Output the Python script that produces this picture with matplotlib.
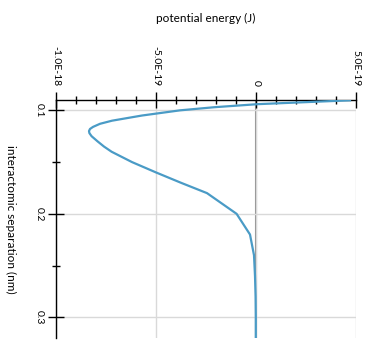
import matplotlib
matplotlib.use("Agg")
import matplotlib.pyplot as plt
from matplotlib.ticker import MultipleLocator

# ---------- data ----------
separation_nm = [0.0903, 0.094, 0.097, 0.100, 0.105, 0.110, 0.113, 0.116,
                 0.118, 0.120, 0.122, 0.125, 0.130, 0.135, 0.140, 0.150,
                 0.160, 0.170, 0.180, 0.200, 0.220, 0.240, 0.260, 0.280,
                 0.300, 0.320]
energy_J = [4.7e-19, 0.1e-19, -2.1e-19, -3.8e-19, -5.7e-19, -7.2e-19,
            -7.8e-19, -8.15e-19, -8.3e-19, -8.35e-19, -8.33e-19, -8.22e-19,
            -7.92e-19, -7.6e-19, -7.22e-19, -6.2e-19, -5.0e-19, -3.75e-19,
            -2.45e-19, -0.97e-19, -0.30e-19, -0.10e-19, -0.05e-19,
            -0.02e-19, -0.01e-19, -0.01e-19]

energy_ticks = [-1.0e-18, -5.0e-19, 0.0, 5.0e-19]
energy_labels = ["-1.0E-18", "-5.0E-19", "0", "5.0E-19"]
sep_ticks = [0.1, 0.2, 0.3]
sep_labels = ["0.1", "0.2", "0.3"]

plt.rcParams['font.family'] = ['Lato', 'DejaVu Sans']
fsz = 7.5
lab_fsz = 8.5
line_col = '#4a9bc6'
grid_col = '#d9d9d9'

fig = plt.figure(figsize=(3.76, 3.54), dpi=100)
ax = fig.add_axes([56/376, 1 - 338/354, 300/376, 238/354])

ax.plot(energy_J, separation_nm, color=line_col, lw=1.6, zorder=3)

ax.set_xlim(-1.0e-18, 5.0e-19)
ax.set_ylim(0.32, 0.09)

# energy axis sits on top
ax.xaxis.tick_top()
ax.xaxis.set_label_position('top')
ax.set_xticks(energy_ticks)
ax.set_xticklabels(energy_labels)
ax.xaxis.set_minor_locator(MultipleLocator(1e-19))
ax.set_yticks(sep_ticks)
ax.set_yticklabels(sep_labels)
ax.yaxis.set_minor_locator(MultipleLocator(0.05))

ax.tick_params(axis='x', which='major', direction='inout', length=12, width=1,
               labelrotation=-90, labelsize=fsz, pad=4, colors='black')
ax.tick_params(axis='x', which='minor', direction='inout', length=6, width=1)
ax.tick_params(axis='y', which='major', direction='inout', length=12, width=1,
               labelrotation=-90, labelsize=fsz, pad=3)
ax.tick_params(axis='y', which='minor', direction='inout', length=6, width=1)
for lab in ax.get_yticklabels():
    lab.set_verticalalignment('center')

ax.set_xlabel('potential energy (J)', fontsize=lab_fsz, labelpad=17)
ax.set_ylabel('interactomic separation (nm)', fontsize=lab_fsz, rotation=-90,
              labelpad=17, va='center')

# gridlines + zero line
ax.grid(True, which='major', color=grid_col, lw=1, zorder=0)
ax.axvline(0, color='#8c8c8c', lw=1.5, zorder=1)

for side in ['right', 'bottom']:
    ax.spines[side].set_visible(False)
for side in ['left', 'top']:
    ax.spines[side].set_linewidth(1)
    ax.spines[side].set_color('black')

fig.savefig('out.png', dpi=100)
